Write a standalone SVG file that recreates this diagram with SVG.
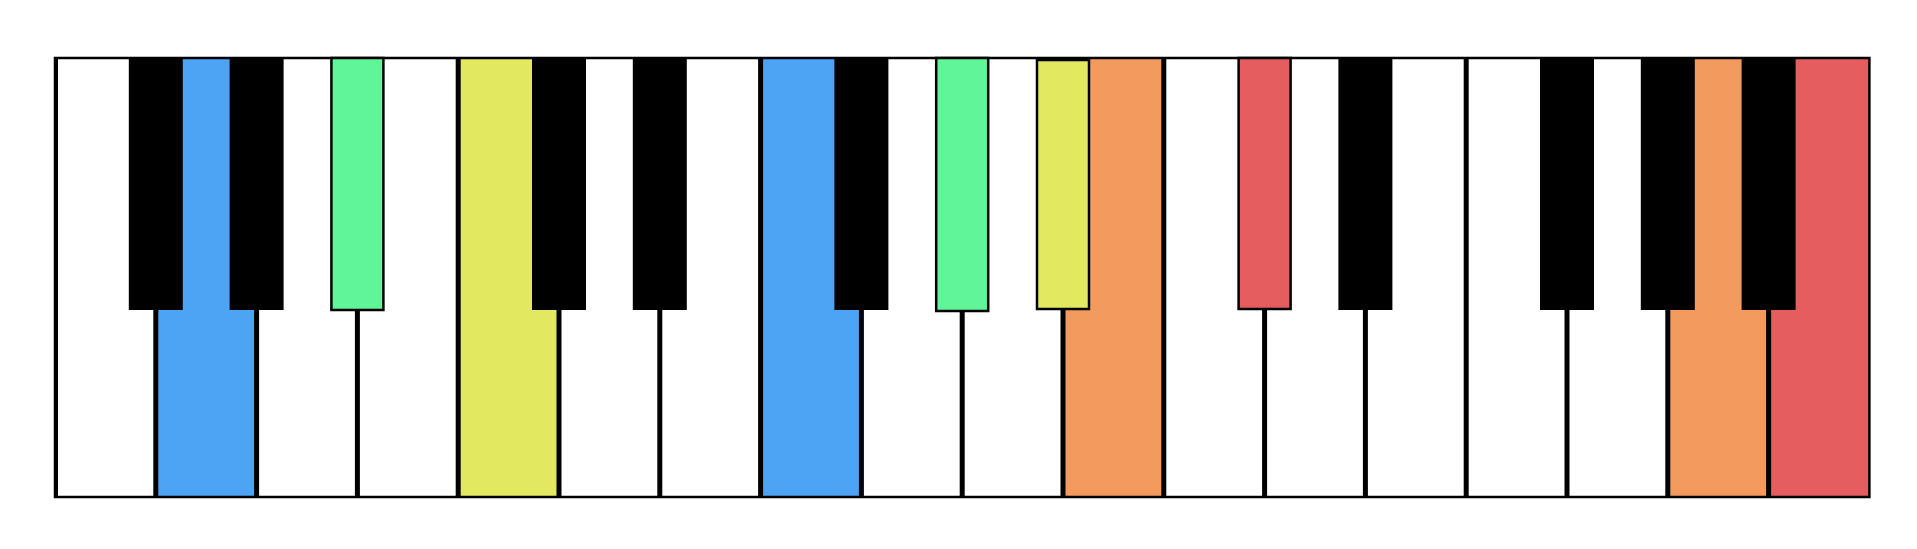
<svg xmlns="http://www.w3.org/2000/svg" width="1917" height="549" viewBox="0 0 1917 549">
<style>
.w{fill:#ffffff}
.blue{fill:#4DA4F4}
.green{fill:#5FF598}
.yellow{fill:#E2E860}
.orange{fill:#F39B5F}
.red{fill:#E55D5E}
.blk{fill:#000000}
.cb{stroke:#000;stroke-width:2.5}
.div{stroke:#000;stroke-width:5}
.frame{fill:none;stroke:#000;stroke-width:2.5}
</style>
<rect width="1917" height="549" fill="#ffffff"/>
<g id="white-keys">
<g id="w0"><rect class="w" x="55" y="58" width="100.8" height="439"/></g>
<g id="w1"><rect class="blue" x="155.8" y="58" width="100.8" height="439"/></g>
<g id="w2"><rect class="w" x="256.6" y="58" width="100.8" height="439"/></g>
<g id="w3"><rect class="w" x="357.4" y="58" width="100.8" height="439"/></g>
<g id="w4"><rect class="yellow" x="458.2" y="58" width="100.8" height="439"/></g>
<g id="w5"><rect class="w" x="559" y="58" width="100.8" height="439"/></g>
<g id="w6"><rect class="w" x="659.8" y="58" width="100.8" height="439"/></g>
<g id="w7"><rect class="blue" x="760.6" y="58" width="100.8" height="439"/></g>
<g id="w8"><rect class="w" x="861.4" y="58" width="100.8" height="439"/></g>
<g id="w9"><rect class="w" x="962.2" y="58" width="100.8" height="439"/></g>
<g id="w10"><rect class="orange" x="1063" y="58" width="100.8" height="439"/></g>
<g id="w11"><rect class="w" x="1163.8" y="58" width="100.8" height="439"/></g>
<g id="w12"><rect class="w" x="1264.6" y="58" width="100.8" height="439"/></g>
<g id="w13"><rect class="w" x="1365.4" y="58" width="100.8" height="439"/></g>
<g id="w14"><rect class="w" x="1466.2" y="58" width="100.8" height="439"/></g>
<g id="w15"><rect class="w" x="1567" y="58" width="100.8" height="439"/></g>
<g id="w16"><rect class="orange" x="1667.8" y="58" width="100.8" height="439"/></g>
<g id="w17"><rect class="red" x="1768.6" y="58" width="100.8" height="439"/></g>
</g>
<g id="dividers">
<line class="div" x1="155.8" y1="58" x2="155.8" y2="497"/>
<line class="div" x1="256.6" y1="58" x2="256.6" y2="497"/>
<line class="div" x1="357.4" y1="58" x2="357.4" y2="497"/>
<line class="div" x1="458.2" y1="58" x2="458.2" y2="497"/>
<line class="div" x1="559" y1="58" x2="559" y2="497"/>
<line class="div" x1="659.8" y1="58" x2="659.8" y2="497"/>
<line class="div" x1="760.6" y1="58" x2="760.6" y2="497"/>
<line class="div" x1="861.4" y1="58" x2="861.4" y2="497"/>
<line class="div" x1="962.2" y1="58" x2="962.2" y2="497"/>
<line class="div" x1="1063" y1="58" x2="1063" y2="497"/>
<line class="div" x1="1163.8" y1="58" x2="1163.8" y2="497"/>
<line class="div" x1="1264.6" y1="58" x2="1264.6" y2="497"/>
<line class="div" x1="1365.4" y1="58" x2="1365.4" y2="497"/>
<line class="div" x1="1466.2" y1="58" x2="1466.2" y2="497"/>
<line class="div" x1="1567" y1="58" x2="1567" y2="497"/>
<line class="div" x1="1667.8" y1="58" x2="1667.8" y2="497"/>
<line class="div" x1="1768.6" y1="58" x2="1768.6" y2="497"/>
<line x1="56" y1="58" x2="56" y2="497" stroke="#000" stroke-width="4"/>
<rect class="frame" x="55" y="58" width="1814.4" height="439"/>
</g>
<g id="black-keys">
<g id="b1"><rect class="blk" x="128.8" y="57" width="54" height="253"/></g>
<g id="b2"><rect class="blk" x="229.6" y="57" width="54" height="253"/></g>
<g id="b3"><rect class="green cb" x="331.4" y="58" width="52" height="252"/></g>
<g id="b5"><rect class="blk" x="532" y="57" width="54" height="253"/></g>
<g id="b6"><rect class="blk" x="632.8" y="57" width="54" height="253"/></g>
<g id="b8"><rect class="blk" x="834.4" y="57" width="54" height="253"/></g>
<g id="b9"><rect class="green cb" x="936.2" y="58" width="52" height="253"/></g>
<g id="b10"><rect class="yellow cb" x="1037" y="60" width="52" height="249"/><line x1="1036" y1="59" x2="1090" y2="59" stroke="#000" stroke-width="4"/></g>
<g id="b12"><rect class="red cb" x="1238.6" y="58" width="52" height="251"/></g>
<g id="b13"><rect class="blk" x="1338.4" y="57" width="54" height="253"/></g>
<g id="b15"><rect class="blk" x="1540" y="57" width="54" height="253"/></g>
<g id="b16"><rect class="blk" x="1640.8" y="57" width="54" height="253"/></g>
<g id="b17"><rect class="blk" x="1741.6" y="57" width="54" height="253"/></g>
</g>
</svg>
